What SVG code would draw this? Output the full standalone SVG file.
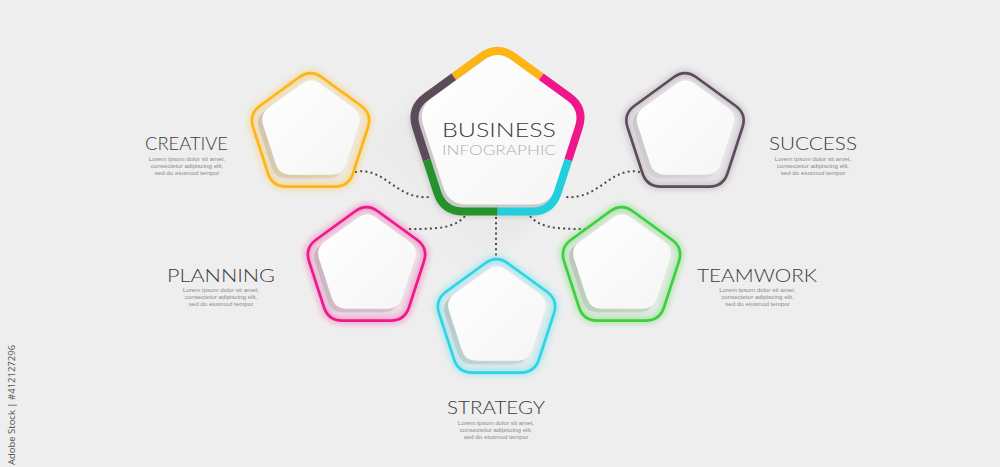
<svg xmlns="http://www.w3.org/2000/svg" xmlns:xlink="http://www.w3.org/1999/xlink" width="1000" height="467" viewBox="0 0 1000 467">
<style>
.title{font-family:Lato,"Open Sans","Liberation Sans",sans-serif;font-weight:300;font-size:18.5px;fill:#3c3c3c;text-anchor:middle}
.lorem{font-family:"Liberation Sans",Arial,sans-serif;font-size:6.2px;fill:#8a8a8a;text-anchor:middle}
.dots{fill:none;stroke:#4a4a4a;stroke-width:2;stroke-dasharray:2 3.2}
.seg{fill:none;stroke-width:8;stroke-linecap:butt}
.ring{fill:none;stroke-width:2.6}
.glow{fill:none;stroke-width:5;opacity:.45}
</style>
<defs>
<path id="out" d="M11.33,-56.77 L50.49,-28.32 Q61.82,-20.09 57.49,-6.77 L42.53,39.27 Q38.21,52.59 24.21,52.59 L-24.21,52.59 Q-38.21,52.59 -42.53,39.27 L-57.49,-6.77 Q-61.82,-20.09 -50.49,-28.32 L-11.33,-56.77 Q0,-65 11.33,-56.77Z"/>
<path id="face" d="M8.9,-47.53 L42.46,-23.15 Q51.36,-16.69 47.96,-6.23 L35.14,33.23 Q31.74,43.69 20.74,43.69 L-20.74,43.69 Q-31.74,43.69 -35.14,33.23 L-47.96,-6.23 Q-51.36,-16.69 -42.46,-23.15 L-8.9,-47.53 Q0,-54 8.9,-47.53Z"/>
<path id="cout" d="M16.18,-80.24 L71.32,-40.19 Q87.5,-28.43 81.32,-9.41 L60.26,55.41 Q54.08,74.43 34.08,74.43 L-34.08,74.43 Q-54.08,74.43 -60.26,55.41 L-81.32,-9.41 Q-87.5,-28.43 -71.32,-40.19 L-16.18,-80.24 Q0,-92 16.18,-80.24Z"/>
<path id="cface" d="M14.56,-75.42 L67.23,-37.16 Q81.79,-26.58 76.23,-9.46 L56.11,52.46 Q50.55,69.58 32.55,69.58 L-32.55,69.58 Q-50.55,69.58 -56.11,52.46 L-76.23,-9.46 Q-81.79,-26.58 -67.23,-37.16 L-14.56,-75.42 Q0,-86 14.56,-75.42Z"/>
<filter id="blur" x="-30%" y="-30%" width="160%" height="160%"><feGaussianBlur stdDeviation="3"/></filter>
<filter id="soft" x="-30%" y="-30%" width="160%" height="160%"><feGaussianBlur stdDeviation="2.5"/></filter>
<filter id="wide" x="-50%" y="-50%" width="200%" height="200%"><feGaussianBlur stdDeviation="6"/></filter>
<linearGradient id="faceg" x1="0" y1="0" x2="1" y2="1">
<stop offset="0" stop-color="#ffffff"/><stop offset="1" stop-color="#f5f5f5"/>
</linearGradient>
<linearGradient id="sideg" x1="0" y1="0" x2="1" y2="1">
<stop offset="0" stop-color="#c4c4c4"/><stop offset="1" stop-color="#dadada"/>
</linearGradient>
<linearGradient id="lsh" x1="1" y1="0" x2="0" y2="1">
<stop offset="0" stop-color="#000" stop-opacity=".05"/><stop offset=".7" stop-color="#000" stop-opacity="0"/>
</linearGradient>
</defs>
<rect width="1000" height="467" fill="#eeeeee"/>
<polygon points="420,95 540,212 470,282 350,165" fill="url(#lsh)" filter="url(#wide)"/>
<text transform="translate(15,405) rotate(-90)" font-family="'Open Sans','Liberation Sans',sans-serif" font-size="9.5" fill="#555" text-anchor="middle">Adobe Stock | #412127296</text>
<g id="connectors">
<path class="dots" d="M355,172 C385,166 395,200 430,197"/>
<path class="dots" d="M640,172 C610,166 600,200 565,197"/>
<path class="dots" d="M409,229 C440,229 455,228 466,215"/>
<path class="dots" d="M586,229 C555,229 540,228 529,215"/>
<path class="dots" d="M496,217 L496,258"/>
</g>
<g id="creative">
<use href="#out" x="310.5" y="134" class="glow" stroke="#fdb515" filter="url(#blur)"/>
<use href="#out" x="310.5" y="134" fill="#fdb515" fill-opacity=".07"/>
<use href="#face" x="306.5" y="135" fill="#d4cfc6" filter="url(#soft)" opacity=".6"/>
<use href="#face" x="307" y="134.5" fill="url(#sideg)"/>
<use href="#face" x="307" y="134.5" fill="#fdb515" fill-opacity=".18"/>
<use href="#face" x="311" y="131" fill="url(#faceg)"/>
<use href="#out" x="310.5" y="134" class="ring" stroke="#fdb515"/>
<text class="title" x="186.5" y="150" textLength="83" lengthAdjust="spacingAndGlyphs">CREATIVE</text>
<text class="lorem" x="187" y="161">Lorem ipsum dolor sit amet,</text>
<text class="lorem" x="187" y="168">consectetur adipiscing elit,</text>
<text class="lorem" x="187" y="175">sed do eiusmod tempor</text>
</g>
<g id="success">
<use href="#out" x="685" y="134" class="glow" stroke="#8a7a8a" filter="url(#blur)" opacity=".3"/>
<use href="#out" x="685" y="134" fill="#5b4b5b" fill-opacity=".04"/>
<use href="#face" x="681" y="135" fill="#cfcfcf" filter="url(#soft)" opacity=".6"/>
<use href="#face" x="681.5" y="134.5" fill="url(#sideg)"/>
<use href="#face" x="685.5" y="131" fill="url(#faceg)"/>
<use href="#out" x="685" y="134" class="ring" stroke="#5b4b5b"/>
<text class="title" x="813" y="150" textLength="88" lengthAdjust="spacingAndGlyphs">SUCCESS</text>
<text class="lorem" x="813" y="161">Lorem ipsum dolor sit amet,</text>
<text class="lorem" x="813" y="168">consectetur adipiscing elit,</text>
<text class="lorem" x="813" y="175">sed do eiusmod tempor</text>
</g>
<g id="planning">
<use href="#out" x="366.5" y="268" class="glow" stroke="#f0168c" filter="url(#blur)"/>
<use href="#out" x="366.5" y="268" fill="#f0168c" fill-opacity=".06"/>
<use href="#face" x="362.5" y="269" fill="#d4c9cf" filter="url(#soft)" opacity=".6"/>
<use href="#face" x="363" y="268.5" fill="url(#sideg)"/>
<use href="#face" x="363" y="268.5" fill="#f0168c" fill-opacity=".12"/>
<use href="#face" x="367" y="265" fill="url(#faceg)"/>
<use href="#out" x="366.5" y="268" class="ring" stroke="#f0168c"/>
<text class="title" x="221" y="281.5" textLength="108" lengthAdjust="spacingAndGlyphs">PLANNING</text>
<text class="lorem" x="221" y="291.5">Lorem ipsum dolor sit amet,</text>
<text class="lorem" x="221" y="298.5">consectetur adipiscing elit,</text>
<text class="lorem" x="221" y="305.5">sed do eiusmod tempor</text>
</g>
<g id="teamwork">
<use href="#out" x="621.5" y="268" class="glow" stroke="#3cd03c" filter="url(#blur)"/>
<use href="#out" x="621.5" y="268" fill="#3cd03c" fill-opacity=".06"/>
<use href="#face" x="617.5" y="269" fill="#cad4ca" filter="url(#soft)" opacity=".6"/>
<use href="#face" x="618" y="268.5" fill="url(#sideg)"/>
<use href="#face" x="618" y="268.5" fill="#3cd03c" fill-opacity=".12"/>
<use href="#face" x="622" y="265" fill="url(#faceg)"/>
<use href="#out" x="621.5" y="268" class="ring" stroke="#3cd03c"/>
<text class="title" x="757" y="281.5" textLength="120" lengthAdjust="spacingAndGlyphs">TEAMWORK</text>
<text class="lorem" x="757.5" y="291.5">Lorem ipsum dolor sit amet,</text>
<text class="lorem" x="757.5" y="298.5">consectetur adipiscing elit,</text>
<text class="lorem" x="757.5" y="305.5">sed do eiusmod tempor</text>
</g>
<g id="strategy">
<use href="#out" x="496.5" y="320" class="glow" stroke="#2cd5e5" filter="url(#blur)"/>
<use href="#out" x="496.5" y="320" fill="#2cd5e5" fill-opacity=".06"/>
<use href="#face" x="492.5" y="321" fill="#c8d3d4" filter="url(#soft)" opacity=".6"/>
<use href="#face" x="493" y="320.5" fill="url(#sideg)"/>
<use href="#face" x="493" y="320.5" fill="#2cd5e5" fill-opacity=".12"/>
<use href="#face" x="497" y="317" fill="url(#faceg)"/>
<use href="#out" x="496.5" y="320" class="ring" stroke="#2cd5e5"/>
<text class="title" x="496" y="414" textLength="98" lengthAdjust="spacingAndGlyphs">STRATEGY</text>
<text class="lorem" x="496" y="425">Lorem ipsum dolor sit amet,</text>
<text class="lorem" x="496" y="432">consectetur adipiscing elit,</text>
<text class="lorem" x="496" y="439">sed do eiusmod tempor</text>
</g>
<g id="business">
<use href="#cout" x="494" y="141" fill="#000" opacity=".18" filter="url(#blur)"/>
<use href="#cout" x="497.5" y="137" fill="#d8d8d8"/>
<use href="#cface" x="495.5" y="139" fill="#c8c8c8" filter="url(#soft)"/>
<use href="#cface" x="499.5" y="135" fill="url(#faceg)"/>
<g transform="translate(497.5,137)">
<path class="seg" stroke="#fdb515" d="M-43.75,-60.22 L-16.18,-80.24 Q0,-92 16.18,-80.24 L43.75,-60.22"/>
<path class="seg" stroke="#f0168c" d="M43.75,-60.22 L71.32,-40.19 Q87.5,-28.43 81.32,-9.41 L70.79,23"/>
<path class="seg" stroke="#22cfdd" d="M70.79,23 L60.26,55.41 Q54.08,74.43 34.08,74.43 L0,74.43"/>
<path class="seg" stroke="#26922c" d="M0,74.43 L-34.08,74.43 Q-54.08,74.43 -60.26,55.41 L-70.79,23"/>
<path class="seg" stroke="#5b4b5b" d="M-70.79,23 L-81.32,-9.41 Q-87.5,-28.43 -71.32,-40.19 L-43.75,-60.22"/>
</g>
<text x="499" y="137" font-family="Lato,'Liberation Sans',sans-serif" font-weight="300" font-size="19.5" fill="#3a3a3a" text-anchor="middle" textLength="114" lengthAdjust="spacingAndGlyphs">BUSINESS</text>
<text x="499" y="154.5" font-family="Lato,'Liberation Sans',sans-serif" font-weight="300" font-size="13" fill="#b0b0b0" text-anchor="middle" textLength="114" lengthAdjust="spacingAndGlyphs">INFOGRAPHIC</text>
</g>
</svg>
